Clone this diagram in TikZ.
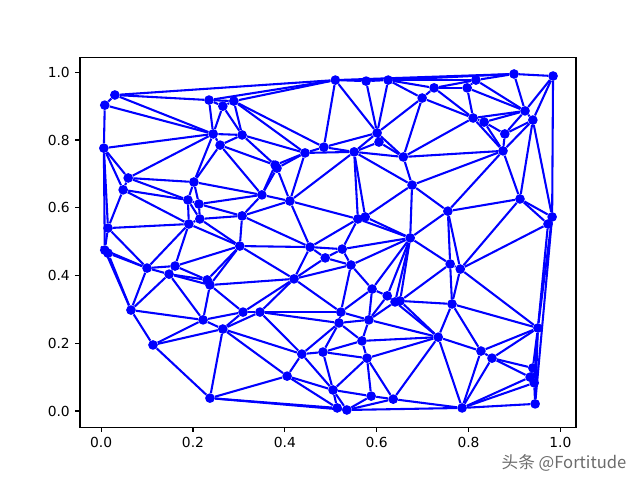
\documentclass[tikz,border=0pt]{standalone}
\usepackage{fontspec}
\setmainfont{DejaVu Sans}
\newfontfamily\cjkfont{Noto Sans CJK SC}
\usetikzlibrary{backgrounds}

\begin{document}
\begin{tikzpicture}[dot/.style={circle, fill=blue, inner sep=0pt, minimum size=7pt},
  edge/.style={blue, line width=1.5pt, line join=round},
  tick/.style={black, line width=0.8pt},
  ticklabel/.style={inner sep=0pt, font=\fontsize{10}{12}\selectfont}]
\useasboundingbox (0,0) rectangle (6.4in,4.8in);
\draw[black, line width=0.8pt] (0.8in,0.528in) rectangle (5.76in,4.224in);
\begin{scope}[shift={(1.011in,0.69in)}, x=4.593in, y=3.387in]
\foreach \v [count=\k] in {0.0,0.2,0.4,0.6,0.8,1.0} {
 \draw[tick] (\v,-0.0478) --++(0,-3.5pt) node[ticklabel, below, yshift=-3.5pt] (xl\k) {\v};
 \draw[tick] (-0.0459,\v) --++(-3.5pt,0) node[ticklabel, left, xshift=-3.5pt] (yl\k) {\v};
}
\foreach \i/\x/\y in {1/0.030/0.933, 2/0.008/0.903, 3/0.235/0.918, 4/0.265/0.900, 5/0.289/0.915,
 6/0.244/0.818, 7/0.307/0.815, 8/0.259/0.785, 9/0.006/0.776, 10/0.059/0.688,
 11/0.048/0.653, 12/0.202/0.676, 13/0.189/0.623, 14/0.213/0.611, 15/0.215/0.567,
 16/0.307/0.576, 17/0.191/0.552, 18/0.015/0.540, 19/0.302/0.487, 20/0.510/0.977,
 21/0.577/0.974, 22/0.625/0.977, 23/0.601/0.821, 24/0.605/0.794, 25/0.485/0.779,
 26/0.444/0.762, 27/0.551/0.765, 28/0.658/0.750, 29/0.379/0.726, 30/0.383/0.717,
 31/0.350/0.638, 32/0.411/0.620, 33/0.677/0.667, 34/0.559/0.567, 35/0.575/0.573,
 36/0.673/0.511, 37/0.455/0.484, 38/0.899/0.995, 39/0.984/0.989, 40/0.816/0.977,
 41/0.725/0.954, 42/0.797/0.954, 43/0.699/0.924, 44/0.923/0.886, 45/0.940/0.859,
 46/0.810/0.865, 47/0.834/0.853, 48/0.879/0.818, 49/0.875/0.768, 50/0.755/0.590,
 51/0.912/0.626, 52/0.982/0.573, 53/0.973/0.552, 54/0.008/0.475, 55/0.015/0.466,
 56/0.100/0.422, 57/0.161/0.428, 58/0.148/0.404, 59/0.231/0.387, 60/0.237/0.372,
 61/0.065/0.298, 62/0.222/0.269, 63/0.265/0.242, 64/0.309/0.292, 65/0.113/0.195,
 66/0.237/0.038, 67/0.525/0.478, 68/0.488/0.452, 69/0.544/0.431, 70/0.420/0.390,
 71/0.590/0.360, 72/0.623/0.340, 73/0.640/0.322, 74/0.651/0.325, 75/0.346/0.292,
 76/0.522/0.292, 77/0.518/0.260, 78/0.583/0.269, 79/0.568/0.207, 80/0.437/0.168,
 81/0.483/0.174, 82/0.579/0.156, 83/0.405/0.103, 84/0.505/0.062, 85/0.588/0.044,
 86/0.636/0.035, 87/0.514/0.009, 88/0.535/0.003, 89/0.760/0.434, 90/0.782/0.419,
 91/0.764/0.316, 92/0.734/0.218, 93/0.951/0.245, 94/0.827/0.177, 95/0.851/0.156,
 96/0.940/0.127, 97/0.934/0.100, 98/0.943/0.083, 99/0.945/0.021, 100/0.786/0.009}
 \node[dot] (p\i) at (\x,\y) {};
\begin{pgfonlayer}{background}
\fill[white] (-0.2201,-0.2037) rectangle (1.1734,1.2135);
\foreach \a/\b in {1/2,1/3,1/6,1/20, 2/6,2/9, 3/4,3/5,3/6,3/20, 4/5,4/6,4/7,
 5/7,5/20,5/25,5/26, 6/7,6/8,6/9,6/10,6/12, 7/8,7/26,7/29, 8/12,8/29,8/31,
 9/10,9/11,9/18,9/54, 10/11,10/12,10/13, 11/13,11/17,11/18, 12/13,12/14,12/31,
 13/14,13/15,13/17, 14/15,14/16,14/31, 15/16,15/17,15/19, 16/19,16/31,16/32,16/37,
 17/18,17/19,17/56,17/57, 18/54,18/56, 19/37,19/57,19/59,19/60,19/70,
 20/21,20/22,20/23,20/25,20/38, 21/22,21/23, 22/23,22/38,22/40,22/41,22/43,
 23/24,23/25,23/27,23/28,23/43, 24/27,24/28, 25/26,25/27, 26/27,26/29,26/30,26/32,
 27/28,27/32,27/33,27/34,27/35, 28/33,28/43,28/46,28/49, 29/30,29/31, 30/31,30/32,
 31/32, 32/34,32/37, 33/35,33/36,33/49,33/50, 34/35,34/36,34/37,34/67, 35/36,
 36/50,36/67,36/69,36/71,36/72,36/73,36/74,36/89, 37/67,37/68,37/70,
 38/39,38/40,38/44, 39/44,39/45,39/52, 40/41,40/42,40/44, 41/42,41/43,41/46,
 42/44,42/46, 43/46, 44/45,44/46,44/47,44/48, 45/48,45/49,45/51,45/52,
 46/47,46/49, 47/48,47/49, 48/49, 49/50,49/51, 50/51,50/89,50/90,
 51/52,51/53,51/90, 52/53,52/93,52/99, 53/90,53/93, 54/55,54/56,54/61,
 55/56,55/61, 56/57,56/58,56/61, 57/58,57/59, 58/59,58/60,58/61,58/62, 59/60,
 60/62,60/64,60/70, 61/62,61/65, 62/63,62/64,62/65,
 63/64,63/65,63/66,63/75,63/80,63/83, 64/70,64/75, 65/66, 66/83,66/87,66/88,
 67/68,67/69, 68/69,68/70, 69/70,69/71,69/76, 70/75,70/76, 71/72,71/76,71/78,
 72/73,72/78, 73/74,73/78,73/92, 74/89,74/91,74/92, 75/76,75/77,75/80,
 76/77,76/78, 77/78,77/79,77/80,77/81, 78/79,78/92, 79/81,79/82,79/92,
 80/81,80/83,80/84, 81/82,81/84, 82/84,82/85,82/86,82/92, 83/84,83/87,
 84/85,84/87,84/88, 85/86,85/88, 86/88,86/92,86/100, 87/88, 88/100,
 89/90,89/91, 90/91,90/93, 91/92,91/93,91/94, 92/94,92/100,
 93/94,93/95,93/96,93/98,93/99, 94/95,94/100, 95/96,95/97,95/100,
 96/97,96/98, 97/98,97/100, 98/99,98/100, 99/100}
 \draw[edge] (p\a) -- (p\b);
\end{pgfonlayer}
\end{scope}
\node[text=gray!85!black, font=\cjkfont\fontsize{12}{14}\selectfont] (mark) at (5.64in,0.17in) {头条 @Fortitude};
\end{tikzpicture}
\end{document}
